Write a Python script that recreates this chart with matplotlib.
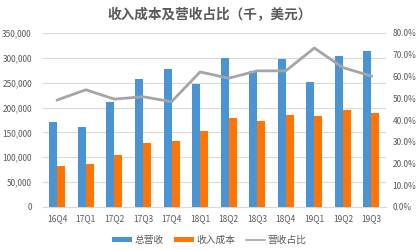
import matplotlib
matplotlib.use("Agg")
import matplotlib.pyplot as plt
import numpy as np
from matplotlib.ticker import FuncFormatter, MultipleLocator
from matplotlib.lines import Line2D

plt.rcParams['font.family'] = ['Noto Sans CJK SC', 'DejaVu Sans']

categories = ["16Q4", "17Q1", "17Q2", "17Q3", "17Q4", "18Q1", "18Q2", "18Q3", "18Q4", "19Q1", "19Q2", "19Q3"]
revenue = [171000, 161000, 211000, 257000, 277000, 247000, 300000, 274500, 297000, 251000, 303000, 313000]
cost = [83000, 87000, 105000, 129000, 133000, 153000, 179000, 173700, 185000, 183000, 195000, 189000]
ratio = [49.2, 53.9, 49.6, 50.7, 48.4, 62.1, 59.2, 62.6, 62.6, 73.1, 64.1, 60.2]

blue = "#4A94D3"
orange = "#FF7405"
gray = "#A5A5A5"
txt = "#595959"

fig = plt.figure(figsize=(4.19, 2.5), dpi=100)
ax = fig.add_axes([0.1026, 0.172, 0.818, 0.696])
ax2 = ax.twinx()

x = np.arange(len(categories))
w = 0.28
ax.bar(x - w/2, revenue, width=w, color=blue, label="总营收", zorder=3)
ax.bar(x + w/2, cost, width=w, color=orange, label="收入成本", zorder=3)
ax2.plot(x, ratio, color=gray, lw=2, label="营收占比", zorder=4)

ax.set_xlim(-0.5, len(categories) - 0.5)
ax.set_ylim(0, 350000)
ax2.set_ylim(0, 80)
ax.yaxis.set_major_locator(MultipleLocator(50000))
ax2.yaxis.set_major_locator(MultipleLocator(10))
ax.yaxis.set_major_formatter(FuncFormatter(lambda v, p: f"{int(v):,}"))
ax2.yaxis.set_major_formatter(FuncFormatter(lambda v, p: f"{v:.1f}%"))
ax.grid(axis='y', color="#D9D9D9", lw=0.8, zorder=0)
ax.set_xticks(x)
ax.set_xticklabels(categories)

for a in (ax, ax2):
    for s in a.spines.values():
        s.set_visible(False)
    a.tick_params(length=0, labelsize=6, colors=txt)
ax.spines['bottom'].set_visible(True)
ax.spines['bottom'].set_color("#D9D9D9")
ax.tick_params(axis='y', pad=8)
ax.tick_params(axis='x', pad=5)
ax2.tick_params(axis='y', pad=5)

fig.text(0.5, 0.94, "收入成本及营收占比（千，美元）", ha='center', va='center',
         fontsize=9.8, fontweight='bold', color=txt)

h1, l1 = ax.get_legend_handles_labels()
line_h = Line2D([], [], color=gray, lw=1.2)
fig.legend(h1 + [line_h], l1 + ["营收占比"], loc='center', bbox_to_anchor=(0.5, 0.04), ncol=3,
           frameon=False, fontsize=7, labelcolor=txt, handlelength=2.0,
           handleheight=0.5, columnspacing=1.1, handletextpad=0.25)

fig.savefig("out.png", dpi=100)
